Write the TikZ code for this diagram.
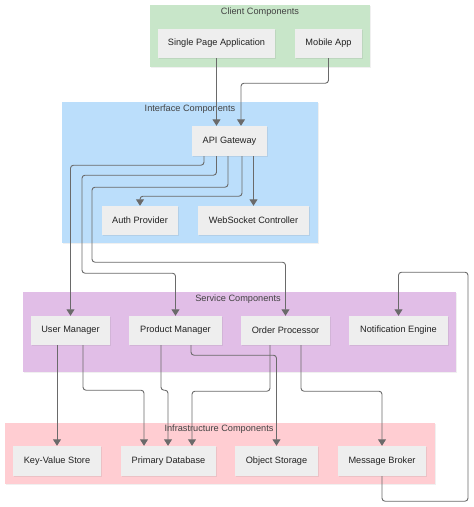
\documentclass[tikz,border=0pt]{standalone}
\usepackage{fontspec}
\setmainfont{Liberation Sans}
\usepackage{tikz}
\usetikzlibrary{arrows.meta, shadows}
\usepackage{xcolor}
\definecolor{ClientGreen}{HTML}{C8E6C9}
\definecolor{InterfaceBlue}{HTML}{BBDEFB}
\definecolor{ServicePurple}{HTML}{E1BEE7}
\definecolor{InfraPink}{HTML}{FFCDD2}
\definecolor{BoxGray}{HTML}{EEEEEE}
\definecolor{EdgeGray}{HTML}{6A6A6A}
\definecolor{TextDark}{HTML}{222222}

\begin{document}
\begin{tikzpicture}[x=1pt, y=-1pt,
    comp/.style={rectangle, fill=BoxGray, minimum height=29pt, inner sep=0pt, text=TextDark,
        font=\fontsize{9.2}{11}\selectfont,
        drop shadow={shadow xshift=1pt, shadow yshift=-1pt, opacity=0.15}},
    group/.style={drop shadow={shadow xshift=1pt, shadow yshift=-1pt, opacity=0.12}},
    grouplabel/.style={text=TextDark!85, font=\fontsize{9.2}{11}\selectfont, inner sep=0pt},
    edge/.style={draw=EdgeGray, line width=0.9pt, rounded corners=3pt, -{Triangle[width=8pt, length=6.5pt]}}]
    \useasboundingbox (0,0) rectangle (474,507);

    % Draw the four component groups
    \path[group, fill=ClientGreen] (150,5) rectangle (370,67);
    \path[group, fill=InterfaceBlue] (62,102) rectangle (318,243);
    \path[group, fill=ServicePurple] (23,292) rectangle (456,372);
    \path[group, fill=InfraPink] (5,423) rectangle (435,484);

    \node[grouplabel] (ClientLabel) at (260,12) {Client Components};
    \node[grouplabel] (InterfaceLabel) at (190,109) {Interface Components};
    \node[grouplabel] (ServiceLabel) at (238,299) {Service Components};
    \node[grouplabel] (InfraLabel) at (219,429) {Infrastructure Components};

    % Client components
    \node[comp, minimum width=117pt] (SPA) at (216.5,43.5) {Single Page Application};
    \node[comp, minimum width=67pt] (Mobile) at (328.5,43.5) {Mobile App};

    % Interface components
    \node[comp, minimum width=75pt, minimum height=30pt] (Gateway) at (229.5,141) {API Gateway};
    \node[comp, minimum width=76pt] (Auth) at (140,220.5) {Auth Provider};
    \node[comp, minimum width=111pt] (Socket) at (253.5,220.5) {WebSocket Controller};

    % Service components
    \node[comp, minimum width=79pt] (Users) at (70.5,330.5) {User Manager};
    \node[comp, minimum width=93pt] (Products) at (175.5,330.5) {Product Manager};
    \node[comp, minimum width=89pt] (Orders) at (285.5,330.5) {Order Processor};
    \node[comp, minimum width=99pt] (Notify) at (398.5,330.5) {Notification Engine};

    % Infrastructure components
    \node[comp, minimum width=88pt, minimum height=30pt] (KVStore) at (57,461) {Key-Value Store};
    \node[comp, minimum width=95pt, minimum height=30pt] (Database) at (168.5,461) {Primary Database};
    \node[comp, minimum width=83pt, minimum height=30pt] (Storage) at (276.5,461) {Object Storage};
    \node[comp, minimum width=88pt, minimum height=30pt] (Broker) at (382,461) {Message Broker};

    % Clients to the gateway
    \draw[edge] (SPA.south) -- (SPA.south |- Gateway.north);
    \draw[edge] (Mobile.south) -- ++(0,25) -| ([xshift=11.5pt]Gateway.north);

    % Gateway to the services and interface parts
    \draw[edge] ([xshift=-25.5pt]Gateway.south) -- ++(0,9) -| (Users.north);
    \draw[edge] ([xshift=-13pt]Gateway.south) -- ++(0,19) -- ++(-134.5,0) -- ++(0,98) -| (Products.north);
    \draw[edge] ([xshift=-1.5pt]Gateway.south) -- ++(0,31) -- ++(-136,0) -- ++(0,75) -| (Orders.north);
    \draw[edge] ([xshift=12.5pt]Gateway.south) -- ++(0,40) -| (Auth.north);
    \draw[edge] ([xshift=24pt]Gateway.south) -- (Socket.north);

    % Services to the infrastructure
    \draw[edge] ([xshift=-13.5pt]Users.south) -- ([xshift=-13.5pt]Users.south |- KVStore.north);
    \draw[edge] ([xshift=12.5pt]Users.south) -- ++(0,45) -| ([xshift=-24.5pt]Database.north);
    \draw[edge] ([xshift=-14.5pt]Products.south) -- ++(0,45) -| ([xshift=-0.5pt]Database.north);
    \draw[edge] ([xshift=-15.5pt]Orders.south) -- ++(0,46) -| ([xshift=23.5pt]Database.north);
    \draw[edge] ([xshift=15.5pt]Products.south) -- ++(0,10) -| (Storage.north);
    \draw[edge] ([xshift=15.5pt]Orders.south) -- ++(0,46) -| (Broker.north);

    % Broker back up to the notification engine
    \draw[edge] (Broker.south) -- ++(0,25) -- ++(86,0) -- ++(0,-229) -| (Notify.north);
\end{tikzpicture}
\end{document}
